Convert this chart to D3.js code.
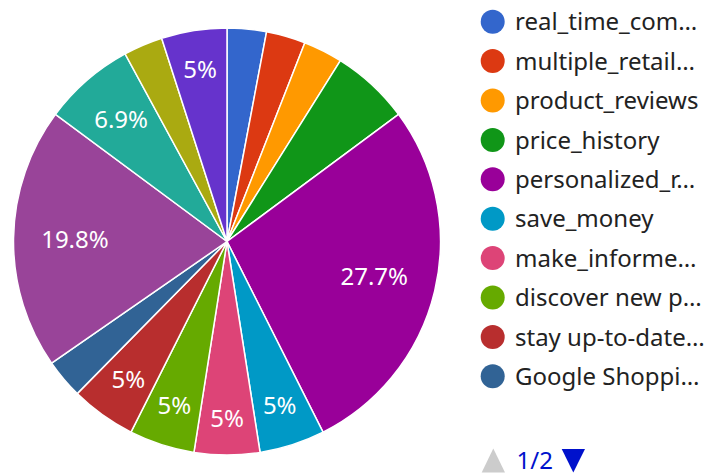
<!DOCTYPE html>
<html>
<head>
<meta charset="utf-8">
<script src="https://cdn.jsdelivr.net/npm/d3@7"></script>
<style>
  body { margin: 0; background: #fff; }
  svg { display: block; font-family: "Noto Sans", "Open Sans", sans-serif; }
</style>
</head>
<body>
<div id="chart"></div>
<script>
var categories = [
    "real_time_comparison", "multiple_retailers", "product_reviews", "price_history",
    "personalized_recommendations", "save_money", "make_informed_decisions",
    "discover new products", "stay up-to-date with deals", "Google Shopping ads",
    "compare_features", "find_discounts", "check_availability", "trusted_sellers"
];
var values = [3, 3, 3, 6, 28, 5, 5, 5, 5, 3, 20, 7, 3, 5];
var colors = [
    "#3366cc", "#dc3912", "#ff9900", "#109618", "#990099", "#0099c6", "#dd4477",
    "#66aa00", "#b82e2e", "#316395", "#994499", "#22aa99", "#aaaa11", "#6633cc"
];
var pageLabel = "1/2";

var width = 706, height = 475;
var cx = 227, cy = 241.5, radius = 213.5;
var fontSize = 24;

var svg = d3.select("#chart").append("svg")
    .attr("width", width)
    .attr("height", height);

var total = d3.sum(values);
var data = categories.map(function(c, i) { return { name: c, value: values[i], color: colors[i] }; });

var pie = d3.pie().sort(null).value(function(d) { return d.value; });
var arc = d3.arc().innerRadius(0).outerRadius(radius);

var g = svg.append("g").attr("transform", "translate(" + cx + "," + cy + ")");

var arcs = pie(data);

g.selectAll("path.slice")
    .data(arcs)
    .enter()
    .append("path")
    .attr("class", "slice")
    .attr("d", arc)
    .attr("fill", function(d) { return d.data.color; })
    .attr("stroke", "#fff")
    .attr("stroke-width", 1.5);

function pctText(v) {
    var s = d3.format(".1f")(v / total * 100);
    return s.replace(/\.0$/, "") + "%";
}

// labels: pushed out along bisector, shown only when the box fits inside the slice
var reach = radius * 0.872, pad = 5;
arcs.forEach(function(d) {
    var t = g.append("text")
        .attr("text-anchor", "middle")
        .style("font-size", fontSize + "px")
        .style("fill", "#fff")
        .text(pctText(d.data.value));
    var hw = t.node().getComputedTextLength() / 2;
    var hh = fontSize * 0.36;
    var mid = (d.startAngle + d.endAngle) / 2;
    var ux = Math.sin(mid), uy = -Math.cos(mid);
    var ox = (ux >= 0 ? 1 : -1) * hw, oy = (uy >= 0 ? 1 : -1) * hh;
    var uo = ux * ox + uy * oy;
    var dist = -uo + Math.sqrt(uo * uo - (ox * ox + oy * oy) + reach * reach);
    var px = dist * ux, py = dist * uy;
    var ok = true;
    if ((d.endAngle - d.startAngle) < Math.PI) {
        [[-hw, -hh], [hw, -hh], [-hw, hh], [hw, hh]].forEach(function(c) {
            var x = px + c[0], y = py + c[1];
            var d0 = x * Math.cos(d.startAngle) + y * Math.sin(d.startAngle);
            var d1 = -(x * Math.cos(d.endAngle) + y * Math.sin(d.endAngle));
            if (d0 < pad || d1 < pad) ok = false;
        });
    }
    if (!ok) { t.remove(); return; }
    t.attr("x", px).attr("y", py + hh);
});

// legend, first page
var legendX = 492.7, legendY = 21.7, rowH = 39.4, maxText = 190;
var legend = svg.append("g");
data.slice(0, 10).forEach(function(d, i) {
    var y = legendY + i * rowH;
    legend.append("circle")
        .attr("cx", legendX)
        .attr("cy", y)
        .attr("r", 12)
        .attr("fill", d.color);
    var t = legend.append("text")
        .attr("x", legendX + 22.3)
        .attr("y", y + fontSize * 0.36)
        .style("font-size", fontSize + "px")
        .style("fill", "#222222")
        .text(d.name);
    var s = d.name;
    while (t.node().getComputedTextLength() > maxText && s.length > 1) {
        s = s.slice(0, -1);
        t.text(s + "…");
    }
});

// pager
var pagerY = 460.5;
svg.append("path")
    .attr("d", d3.line()([[481.7, pagerY + 12], [505, pagerY + 12], [493.3, pagerY - 12]]) + "Z")
    .attr("fill", "#cccccc");
svg.append("text")
    .attr("x", 516.5)
    .attr("y", pagerY + fontSize * 0.36)
    .style("font-size", fontSize + "px")
    .style("fill", "#0011cc")
    .text(pageLabel);
svg.append("path")
    .attr("d", d3.line()([[561.7, pagerY - 11.5], [585, pagerY - 11.5], [573.3, pagerY + 12]]) + "Z")
    .attr("fill", "#0011cc");
</script>
</body>
</html>
